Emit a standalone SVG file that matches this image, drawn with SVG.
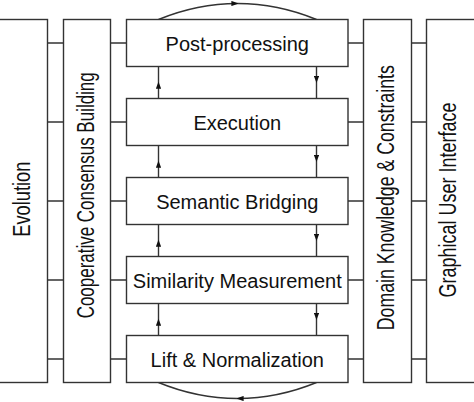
<svg xmlns="http://www.w3.org/2000/svg" width="474" height="402" viewBox="0 0 474 402">
<style>
.box{fill:#fff;stroke:#333;stroke-width:1.4}
.ln{fill:none;stroke:#333;stroke-width:1.4}
.t{font-family:"Liberation Sans",Arial,sans-serif;font-size:20px;fill:#111;text-anchor:middle}
.v{font-family:"Liberation Sans",Arial,sans-serif;font-size:23px;fill:#111;text-anchor:middle}
</style>
<defs>
<marker id="ah" viewBox="0 0 8 6" refX="7" refY="3" markerWidth="7" markerHeight="5.5" markerUnits="userSpaceOnUse" orient="auto">
<path d="M0,0 L8,3 L0,6 z" fill="#111"/>
</marker>
</defs>
<g id="evolution">
<rect class="box" x="-2" y="19.5" width="49.5" height="363"/>
<text class="v" transform="translate(30,199.2) rotate(-90)" textLength="75" lengthAdjust="spacingAndGlyphs">Evolution</text>
</g>
<g id="cooperative">
<rect class="box" x="63.5" y="19.5" width="47" height="363"/>
<text class="v" transform="translate(93.5,195.3) rotate(-90)" textLength="246" lengthAdjust="spacingAndGlyphs">Cooperative Consensus Building</text>
</g>
<g id="domain">
<rect class="box" x="363.5" y="19.5" width="48" height="363"/>
<text class="v" transform="translate(393.5,197.7) rotate(-90)" textLength="265" lengthAdjust="spacingAndGlyphs">Domain Knowledge &amp; Constraints</text>
</g>
<g id="gui">
<rect class="box" x="426.5" y="19.5" width="50" height="363"/>
<text class="v" transform="translate(455.5,200) rotate(-90)" textLength="195" lengthAdjust="spacingAndGlyphs">Graphical User Interface</text>
</g>
<g id="connectors">
<path class="ln" d="M47.5,43H63.5M110.5,43H126.5M348,43H363.5M411.5,43H426.5"/>
<path class="ln" d="M47.5,122H63.5M110.5,122H126.5M348,122H363.5M411.5,122H426.5"/>
<path class="ln" d="M47.5,201H63.5M110.5,201H126.5M348,201H363.5M411.5,201H426.5"/>
<path class="ln" d="M47.5,280H63.5M110.5,280H126.5M348,280H363.5M411.5,280H426.5"/>
<path class="ln" d="M47.5,359H63.5M110.5,359H126.5M348,359H363.5M411.5,359H426.5"/>
<path class="ln" marker-mid="url(#ah)" d="M158.5,98.5 L158.5,82.5 L158.5,66.5"/>
<path class="ln" marker-mid="url(#ah)" d="M158.5,177.5 L158.5,161.5 L158.5,145.5"/>
<path class="ln" marker-mid="url(#ah)" d="M158.5,256.5 L158.5,240.5 L158.5,224.5"/>
<path class="ln" marker-mid="url(#ah)" d="M158.5,335.5 L158.5,319.5 L158.5,303.5"/>
<path class="ln" marker-mid="url(#ah)" d="M316.5,66.5 L316.5,82 L316.5,98.5"/>
<path class="ln" marker-mid="url(#ah)" d="M316.5,145.5 L316.5,161 L316.5,177.5"/>
<path class="ln" marker-mid="url(#ah)" d="M316.5,224.5 L316.5,240 L316.5,256.5"/>
<path class="ln" marker-mid="url(#ah)" d="M316.5,303.5 L316.5,319 L316.5,335.5"/>
<path class="ln" marker-mid="url(#ah)" d="M158.5,19.5 Q197.5,3.5 237.5,3.5 Q277.5,3.5 316.5,19.5"/>
<path class="ln" marker-mid="url(#ah)" d="M316.5,382.5 Q277.5,398.5 237.5,398.5 Q197.5,398.5 158.5,382.5"/>
</g>
<g id="post-processing">
<rect class="box" x="126.5" y="19.5" width="221.5" height="47"/>
<text class="t" x="237.3" y="50.5">Post-processing</text>
</g>
<g id="execution">
<rect class="box" x="126.5" y="98.5" width="221.5" height="47"/>
<text class="t" x="237.3" y="129.5">Execution</text>
</g>
<g id="semantic-bridging">
<rect class="box" x="126.5" y="177.5" width="221.5" height="47"/>
<text class="t" x="237.3" y="208.5">Semantic Bridging</text>
</g>
<g id="similarity-measurement">
<rect class="box" x="126.5" y="256.5" width="221.5" height="47"/>
<text class="t" x="237.3" y="287.5">Similarity Measurement</text>
</g>
<g id="lift-normalization">
<rect class="box" x="126.5" y="335.5" width="221.5" height="47"/>
<text class="t" x="237.3" y="366.5">Lift &amp; Normalization</text>
</g>
</svg>
